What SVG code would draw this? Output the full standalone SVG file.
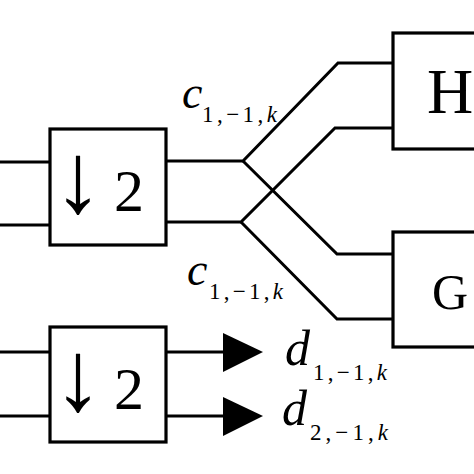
<svg xmlns="http://www.w3.org/2000/svg" width="474" height="474" viewBox="0 0 474 474">
<style>
.box{fill:#fff;stroke:#000;stroke-width:3.2}
.ln{fill:none;stroke:#000;stroke-width:3;stroke-linejoin:miter}
.t{fill:#000;font-family:'Liberation Serif','DejaVu Serif','Noto Serif',serif}
.i{font-style:italic}
</style>
<rect width="474" height="474" fill="#fff"/>
<g id="connectors">
<path class="ln" d="M0 162H50M0 225H50"/>
<path class="ln" d="M166 161H243L338 63H393"/>
<path class="ln" d="M243 161L337 254H393"/>
<path class="ln" d="M166 222H241L335 128H393"/>
<path class="ln" d="M241 222L337 319H393"/>
<path class="ln" d="M0 352H50M0 416H50"/>
<path class="ln" d="M166 352H224M166 416H224"/>
<polygon points="223,333 263,352 223,372" fill="#000"/>
<polygon points="223,397 263,416 223,436" fill="#000"/>
</g>
<g id="down1">
<rect class="box" x="50" y="129" width="116" height="116"/>
<text class="t" x="53" y="212" font-size="100">↓</text>
<text class="t" x="114" y="211" font-size="60">2</text>
</g>
<g id="down2">
<rect class="box" x="50" y="327" width="116" height="115"/>
<text class="t" x="53" y="410" font-size="100">↓</text>
<text class="t" x="114" y="409" font-size="60">2</text>
</g>
<g id="H">
<rect class="box" x="393" y="33" width="90" height="116"/>
<text class="t" x="427" y="113" font-size="64">H</text>
</g>
<g id="G">
<rect class="box" x="393" y="232" width="90" height="115"/>
<text class="t" x="432" y="309" font-size="50">G</text>
</g>
<g id="labels">
<text class="t i" x="182" y="108" font-size="46">c</text>
<text class="t" x="202" y="122" font-size="23" textLength="75" lengthAdjust="spacing">1,−1,<tspan class="i">k</tspan></text>
<text class="t i" x="187" y="285" font-size="46">c</text>
<text class="t" x="209" y="299" font-size="23" textLength="74" lengthAdjust="spacing">1,−1,<tspan class="i">k</tspan></text>
<text class="t i" x="285" y="365" font-size="50">d</text>
<text class="t" x="313" y="380" font-size="23" textLength="74" lengthAdjust="spacing">1,−1,<tspan class="i">k</tspan></text>
<text class="t i" x="282" y="425" font-size="50">d</text>
<text class="t" x="310" y="440" font-size="23" textLength="78" lengthAdjust="spacing">2,−1,<tspan class="i">k</tspan></text>
</g>
</svg>
